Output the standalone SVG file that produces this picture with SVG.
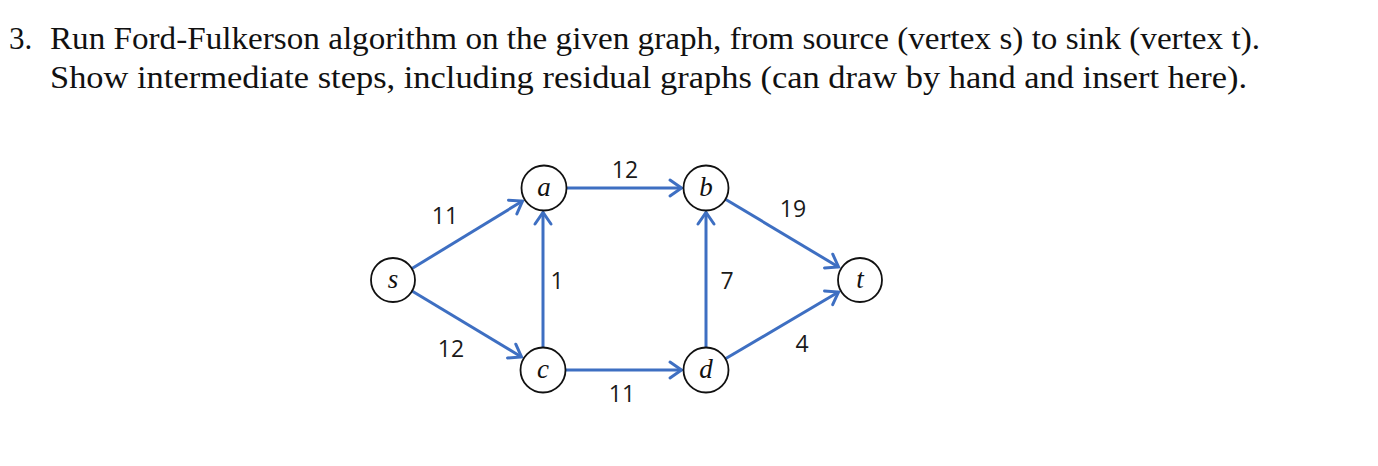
<svg xmlns="http://www.w3.org/2000/svg" width="1378" height="466" viewBox="0 0 1378 466">
<style>
.title{font-family:"Liberation Serif","Times New Roman",serif;font-size:31px;fill:#111}
.node circle{fill:#fff;stroke:#111;stroke-width:1.8}
.node text{font-family:"Liberation Serif","Times New Roman",serif;font-style:italic;font-size:27px;fill:#111;text-anchor:middle}
.edge{stroke:#3E6FC2;stroke-width:3;fill:none}
.lbl{font-family:"Open Sans","DejaVu Sans",sans-serif;font-size:23px;fill:#1a1a1a;text-anchor:middle}
</style>
<defs>
<marker id="arr" markerUnits="userSpaceOnUse" markerWidth="26" markerHeight="26" viewBox="-15 -13 19 26" refX="0" refY="0" orient="auto">
<path d="M-11.5,-8 L0,0 L-11.5,8" fill="none" stroke="#3E6FC2" stroke-width="3" stroke-linejoin="miter" stroke-linecap="round"/>
</marker>
</defs>
<rect width="1378" height="466" fill="#fff"/>
<g id="title">
<text class="title" x="9" y="49">3.</text>
<text class="title" x="50" y="49" textLength="1210" lengthAdjust="spacingAndGlyphs">Run Ford-Fulkerson algorithm on the given graph, from source (vertex s) to sink (vertex t).</text>
<text class="title" x="50" y="88" textLength="1197" lengthAdjust="spacingAndGlyphs">Show intermediate steps, including residual graphs (can draw by hand and insert here).</text>
</g>
<g id="connectors">
<line class="edge" x1="412" y1="268.5" x2="522.5" y2="201" marker-end="url(#arr)"/>
<line class="edge" x1="412" y1="291" x2="521.5" y2="357" marker-end="url(#arr)"/>
<line class="edge" x1="567" y1="188" x2="681.5" y2="188" marker-end="url(#arr)"/>
<line class="edge" x1="543" y1="347" x2="543" y2="212.5" marker-end="url(#arr)"/>
<line class="edge" x1="566" y1="370" x2="681.5" y2="370" marker-end="url(#arr)"/>
<line class="edge" x1="706" y1="347" x2="706" y2="212.5" marker-end="url(#arr)"/>
<line class="edge" x1="725" y1="199" x2="838.5" y2="267" marker-end="url(#arr)"/>
<line class="edge" x1="725" y1="359" x2="838.5" y2="292" marker-end="url(#arr)"/>
<text class="lbl" x="445" y="224">11</text>
<text class="lbl" x="451" y="357">12</text>
<text class="lbl" x="557" y="289">1</text>
<text class="lbl" x="625" y="178">12</text>
<text class="lbl" x="793" y="217">19</text>
<text class="lbl" x="727" y="289">7</text>
<text class="lbl" x="802" y="352">4</text>
<text class="lbl" x="622" y="402">11</text>
</g>
<g id="node-s" class="node"><circle cx="393" cy="280" r="22"/><text x="393" y="288">s</text></g>
<g id="node-a" class="node"><circle cx="544" cy="188" r="22.5"/><text x="544" y="196">a</text></g>
<g id="node-b" class="node"><circle cx="706" cy="188" r="22.5"/><text x="706" y="196">b</text></g>
<g id="node-c" class="node"><circle cx="543" cy="370" r="22.5"/><text x="543" y="378">c</text></g>
<g id="node-d" class="node"><circle cx="706" cy="370" r="22.5"/><text x="706" y="378">d</text></g>
<g id="node-t" class="node"><circle cx="860" cy="280" r="22"/><text x="860" y="288">t</text></g>
</svg>
